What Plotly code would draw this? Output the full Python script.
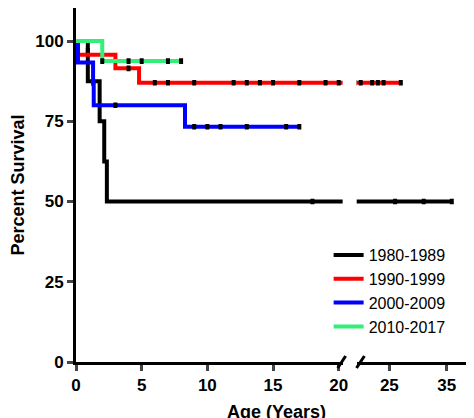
import plotly.graph_objects as go

groups = ["1980-1989", "1990-1999", "2000-2009", "2010-2017"]
colors = ["#000000", "#ff0000", "#0000ff", "#33ee77"]

# step curves (time in years, percent survival)
t_80 = [0, 0.9, 1.8, 2.15, 2.35, 35.9]
s_80 = [100, 87.5, 75, 62.5, 50, 50]
t_90 = [0, 0.15, 3.0, 4.8, 27.0]
s_90 = [100, 95.7, 91.5, 87, 87]
t_00 = [0, 0.15, 1.3, 1.35, 8.3, 17.0]
s_00 = [100, 93.3, 86.7, 80, 73.3, 73.3]
t_10 = [0, 2.0, 8.0]
s_10 = [100, 93.75, 93.75]

# censored observations
c_80_t = [0.9, 18.0, 26.0, 31.0, 35.9]
c_80_s = [97, 50, 50, 50, 50]
c_90_t = [4.0, 6.0, 7.0, 9.0, 12.0, 13.0, 14.0, 15.0, 17.0, 19.0, 20.0, 22.0, 23.0, 24.0, 27.0]
c_90_s = [91.5] + [87] * 14
c_00_t = [3.0, 9.0, 10.0, 11.0, 13.0, 16.0, 17.0]
c_00_s = [80] + [73.3] * 6
c_10_t = [2.0, 4.0, 5.0, 7.0, 8.0]
c_10_s = [93.75] * 5

curves = [(t_80, s_80), (t_90, s_90), (t_00, s_00), (t_10, s_10)]
cens = [(c_80_t, c_80_s), (c_90_t, c_90_s), (c_00_t, c_00_s), (c_10_t, c_10_s)]

fig = go.Figure()
for i, name in enumerate(groups):
    t, s = curves[i]
    ct, cs = cens[i]
    for ax in ["x", "x2"]:
        fig.add_trace(go.Scatter(x=t, y=s, xaxis=ax, mode="lines", line_shape="hv",
                                 line=dict(color=colors[i], width=4), name=name,
                                 showlegend=(ax == "x")))
        fig.add_trace(go.Scatter(x=ct, y=cs, xaxis=ax, mode="markers", showlegend=False,
                                 marker=dict(symbol="line-ns", size=4,
                                             line=dict(color="black", width=4))))

font = dict(family="Liberation Sans, Arial", size=16, color="black")
axis_style = dict(showline=True, linewidth=3, linecolor="black", ticks="outside",
                  ticklen=6, tickwidth=3, showgrid=False, zeroline=False,
                  tickfont=dict(family="Liberation Sans, Arial", size=17, color="black"))

fig.update_layout(
    width=474, height=418, margin=dict(l=68, r=0, t=0, b=64),
    plot_bgcolor="white", paper_bgcolor="white", font=font,
    xaxis=dict(domain=[0, 0.665], range=[0, 20.3], tickvals=[0, 5, 10, 15, 20],
               ticktext=["<b>%d</b>" % v for v in [0, 5, 10, 15, 20]], **axis_style),
    xaxis2=dict(domain=[0.70, 1], range=[19.3, 40.3], tickvals=[25, 35],
                ticktext=["<b>25</b>", "<b>35</b>"], anchor="y", **axis_style),
    yaxis=dict(range=[0, 110.3], tickvals=[0, 25, 50, 75, 100],
               ticktext=["<b>%d</b>" % v for v in [0, 25, 50, 75, 100]],
               title=dict(text="<b>Percent Survival</b>", font=dict(size=18), standoff=6),
               **axis_style),
    legend=dict(x=0.63, y=0.35, xanchor="left", yanchor="top", bgcolor="rgba(0,0,0,0)",
                font=dict(family="Liberation Sans, Arial", size=16, color="black"),
                tracegroupgap=0),
    annotations=[dict(text="<b>Age (Years)</b>", x=0.5, y=-0.14, xref="paper", yref="paper",
                      showarrow=False, font=dict(size=18), yanchor="middle")],
)

# axis break marks
py = 1 / 354
for x0 in [(333 - 68) / 406, (352 - 68) / 406]:
    fig.add_shape(type="line", xref="paper", yref="paper", x0=x0, y0=-6 * py,
                  x1=x0 + 8 / 406, y1=6 * py, line=dict(color="black", width=3))

fig.write_html("out.html")
